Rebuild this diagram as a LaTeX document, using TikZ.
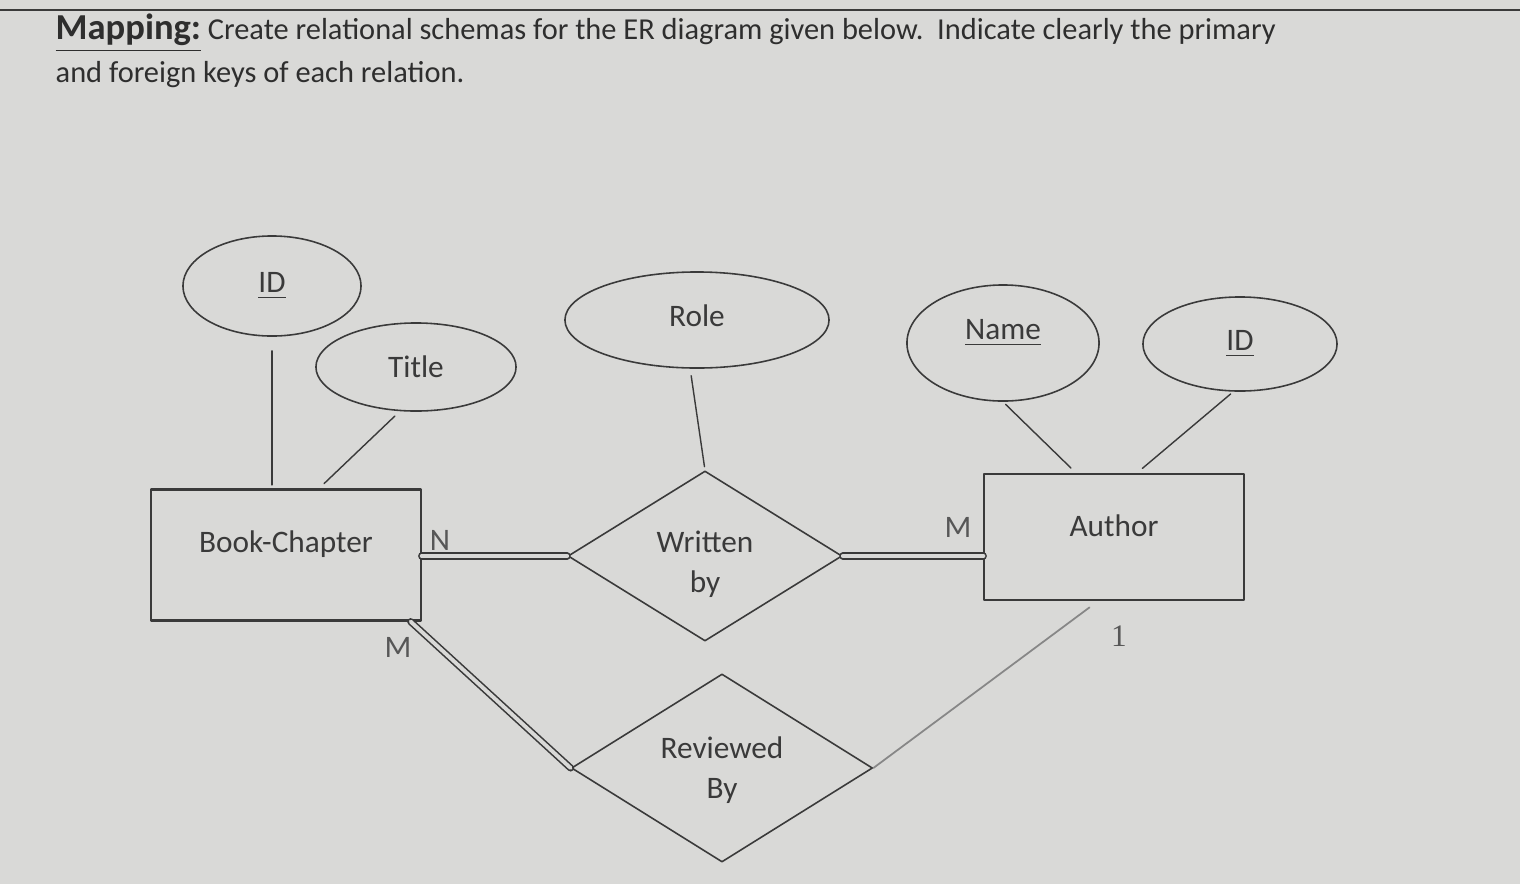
\documentclass[tikz,border=0pt]{standalone}
\usepackage{fontspec}
\setmainfont{Carlito}
\newfontfamily\numfont{Liberation Serif}
\usetikzlibrary{shapes.geometric}
\definecolor{screen}{RGB}{217,217,215}
\definecolor{ink}{RGB}{58,58,58}
\definecolor{faint}{RGB}{135,135,135}

\begin{document}
\begin{tikzpicture}[x=0.01cm,y=-0.01cm,line cap=round,line join=round,
  font=\fontsize{8.9}{10.4}\selectfont,
  attr/.style={draw=ink,ellipse,line width=0.45pt,inner sep=0pt,text=ink},
  entity/.style={draw=ink,rectangle,line width=0.6pt,inner sep=0pt},
  rel/.style={draw=ink,diamond,line width=0.45pt,inner sep=0pt},
  inlabel/.style={text=ink,align=center},
  link/.style={draw=ink,line width=0.4pt},
  total/.style={draw=ink,line width=0.45pt,double=screen,double distance=1.1pt},
  card/.style={text=ink!85}]
  \fill[screen] (0,0) rectangle (1520,884);
  \useasboundingbox (0,0) rectangle (1520,884);
  \draw[ink,line width=0.6pt] (0,10) -- (1520,10);
  % heading
  \node[anchor=north west,align=left,inner sep=0pt,text=ink!80!black,
    font=\fontsize{8.65}{10.4}\selectfont] (head) at (55,13)
    {{\fontsize{10.4}{11}\selectfont\textbf{\underline{Mapping:}}}\ Create relational schemas for the ER diagram given below.\ \ Indicate clearly the primary\\[2pt]
     and foreign keys of each relation.};
  % entities
  \node[entity,minimum width=2.69cm,minimum height=1.31cm,
    label={[inlabel,yshift=0.11cm]center:Book-Chapter}] (bc) at (286,555) {};
  \node[entity,minimum width=2.59cm,minimum height=1.26cm,
    label={[inlabel,yshift=0.11cm]center:Author}] (au) at (1114,537) {};
  % relationships
  \node[rel,minimum width=2.74cm,minimum height=1.70cm,
    label={[inlabel,yshift=-0.08cm]center:Written\\[1pt]by}] (wb) at (705,556) {};
  \node[rel,minimum width=3.01cm,minimum height=1.88cm,
    label={[inlabel,yshift=-0.02cm]center:Reviewed\\[1pt]By}] (rb) at (722,768) {};
  % attributes
  \node[attr,minimum width=1.78cm,minimum height=1.00cm] (idbc) at (272,286) {\underline{ID}};
  \node[attr,minimum width=2.00cm,minimum height=0.88cm] (title) at (416,367) {Title};
  \node[attr,minimum width=2.64cm,minimum height=0.96cm,
    label={[inlabel,yshift=0.04cm]center:Role}] (role) at (697,320) {};
  \node[attr,minimum width=1.92cm,minimum height=1.16cm,
    label={[inlabel,yshift=0.10cm]center:\underline{Name}}] (name) at (1003,343) {};
  \node[attr,minimum width=1.94cm,minimum height=0.94cm] (idau) at (1240,344) {\underline{ID}};
  % attribute links
  \draw[link,shorten <=4pt,shorten >=1pt] (idbc.south) -- (idbc.south |- bc.north);
  \draw[link,shorten <=2pt,shorten >=2pt] (title.250) -- ([xshift=0.33cm]bc.north);
  \draw[link,shorten <=2pt,shorten >=1pt] (role.262) -- (wb.north);
  \draw[link,shorten <=1pt,shorten >=2pt] (name.south) -- ([xshift=-0.38cm]au.north);
  \draw[link,shorten <=1pt,shorten >=2pt] (idau.262) -- ([xshift=0.23cm]au.north);
  % relationship links
  \draw[total] (bc.east |- wb.west) -- (wb.west);
  \draw[total] (wb.east) -- (wb.east -| au.west);
  \draw[total] ([xshift=-0.11cm]bc.south east) -- (rb.west);
  \draw[faint,line width=0.5pt,shorten >=3pt] (rb.east) -- ([xshift=-0.16cm]au.south);
  % cardinalities
  \node[card] (cN) at (440,540) {N};
  \node[card] (cM1) at (958,527) {M};
  \node[card] (cM2) at (398,647) {M};
  \node[card] (c1) at (1119,636) {\numfont 1};
\end{tikzpicture}
\end{document}
